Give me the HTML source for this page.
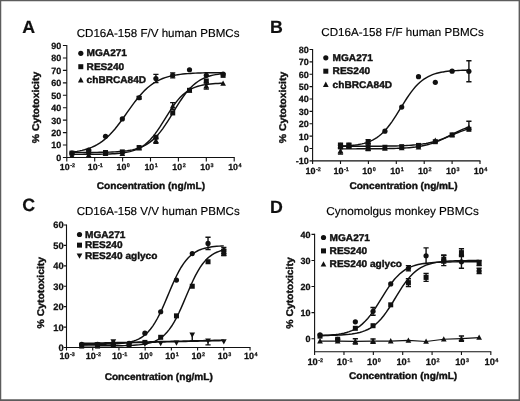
<!DOCTYPE html>
<html><head><meta charset="utf-8"><title>Figure</title>
<style>
html,body{margin:0;padding:0;background:#fff}
body{width:520px;height:401px;overflow:hidden;position:relative}
svg{position:absolute;left:0;top:0;display:block}
text{font-family:"Liberation Sans", Arial, Helvetica, sans-serif;fill:#111;text-rendering:geometricPrecision}
.tk{font-weight:bold;stroke:#111;stroke-width:0.25px}
.sp{font-size:5.4px;font-weight:bold}
.let{font-size:17.8px;font-weight:bold;stroke:#111;stroke-width:0.2px}
.tit{font-size:11.5px;fill:#000;stroke:#000;stroke-width:0.15px}
.lab{font-size:9.75px;font-weight:bold;stroke:#111;stroke-width:0.4px}
.leg{font-size:9.75px;font-weight:bold;stroke:#111;stroke-width:0.4px}
</style></head><body>
<svg width="520" height="401" viewBox="0 0 520 401">
<rect x="0" y="0" width="520" height="401" fill="#fff"/>
<path d="M66.80 45.00V157.50H234.70" fill="none" stroke="#111" stroke-width="1.1"/>
<text x="61.20" y="160.87" text-anchor="end" class="tk" font-size="9.0">0</text>
<text x="61.20" y="148.43" text-anchor="end" class="tk" font-size="9.0">10</text>
<text x="61.20" y="135.98" text-anchor="end" class="tk" font-size="9.0">20</text>
<text x="61.20" y="123.54" text-anchor="end" class="tk" font-size="9.0">30</text>
<text x="61.20" y="111.09" text-anchor="end" class="tk" font-size="9.0">40</text>
<text x="61.20" y="98.65" text-anchor="end" class="tk" font-size="9.0">50</text>
<text x="61.20" y="86.21" text-anchor="end" class="tk" font-size="9.0">60</text>
<text x="61.20" y="73.76" text-anchor="end" class="tk" font-size="9.0">70</text>
<text x="61.20" y="61.32" text-anchor="end" class="tk" font-size="9.0">80</text>
<text x="61.20" y="48.87" text-anchor="end" class="tk" font-size="9.0">90</text>
<text x="59.86" y="169.80" class="tk" font-size="8.8">10<tspan dx="0.5" dy="-2.99" font-size="5.4">-2</tspan></text>
<text x="87.76" y="169.80" class="tk" font-size="8.8">10<tspan dx="0.5" dy="-2.99" font-size="5.4">-1</tspan></text>
<text x="116.56" y="169.80" class="tk" font-size="8.8">10<tspan dx="0.5" dy="-2.99" font-size="5.4">0</tspan></text>
<text x="144.46" y="169.80" class="tk" font-size="8.8">10<tspan dx="0.5" dy="-2.99" font-size="5.4">1</tspan></text>
<text x="172.36" y="169.80" class="tk" font-size="8.8">10<tspan dx="0.5" dy="-2.99" font-size="5.4">2</tspan></text>
<text x="200.26" y="169.80" class="tk" font-size="8.8">10<tspan dx="0.5" dy="-2.99" font-size="5.4">3</tspan></text>
<text x="228.16" y="169.80" class="tk" font-size="8.8">10<tspan dx="0.5" dy="-2.99" font-size="5.4">4</tspan></text>
<path d="M62.90 157.50H66.80M62.90 145.06H66.80M62.90 132.61H66.80M62.90 120.17H66.80M62.90 107.72H66.80M62.90 95.28H66.80M62.90 82.83H66.80M62.90 70.39H66.80M62.90 57.94H66.80M62.90 45.50H66.80M66.80 157.50v3.90M94.70 157.50v3.90M122.60 157.50v3.90M150.50 157.50v3.90M178.40 157.50v3.90M206.30 157.50v3.90M234.20 157.50v3.90" fill="none" stroke="#111" stroke-width="1.1"/>
<text transform="translate(22.3 32.9) " class="let">A</text>
<text x="76.7" y="37" class="tit" textLength="162.8" lengthAdjust="spacingAndGlyphs">CD16A-158 F/V human PBMCs</text>
<text transform="translate(150.9 188.75) scale(1.035 1)" text-anchor="middle" class="lab">Concentration (ng/mL)</text>
<text transform="translate(39.1 107.5) rotate(-90) scale(1.062 1)" text-anchor="middle" class="lab">% Cytotoxicity</text>
<polyline points="71.95,152.05 74.47,151.73 76.99,151.35 79.51,150.90 82.03,150.37 84.55,149.75 87.07,149.01 89.59,148.16 92.11,147.16 94.62,146.01 97.14,144.68 99.66,143.15 102.18,141.41 104.70,139.44 107.22,137.23 109.74,134.79 112.26,132.09 114.78,129.17 117.30,126.04 119.82,122.73 122.33,119.28 124.85,115.73 127.37,112.14 129.89,108.57 132.41,105.07 134.93,101.69 137.45,98.48 139.97,95.46 142.49,92.66 145.01,90.10 147.53,87.79 150.04,85.72 152.56,83.87 155.08,82.25 157.60,80.84 160.12,79.60 162.64,78.54 165.16,77.62 167.68,76.84 170.20,76.17 172.72,75.60 175.24,75.11 177.75,74.70 180.27,74.35 182.79,74.06 185.31,73.81 187.83,73.60 190.35,73.43 192.87,73.28 195.39,73.15 197.91,73.05 200.43,72.96 202.94,72.89 205.46,72.83 207.98,72.77 210.50,72.73 213.02,72.69 215.54,72.66 218.06,72.64 220.58,72.62 223.10,72.60" fill="none" stroke="#111" stroke-width="1.45"/>
<circle cx="71.95" cy="153.14" r="2.60" fill="#111"/>
<circle cx="88.71" cy="150.03" r="2.60" fill="#111"/>
<circle cx="105.51" cy="136.34" r="2.60" fill="#111"/>
<circle cx="122.32" cy="118.92" r="2.60" fill="#111"/>
<path d="M139.11 96.52V99.01M136.51 96.52h5.2M136.51 99.01h5.2" fill="none" stroke="#111" stroke-width="1.4"/>
<circle cx="139.11" cy="97.77" r="2.60" fill="#111"/>
<path d="M155.91 74.37V82.58M153.31 74.37h5.2M153.31 82.58h5.2" fill="none" stroke="#111" stroke-width="1.4"/>
<circle cx="155.91" cy="78.48" r="2.60" fill="#111"/>
<path d="M172.71 72.88V77.86M170.11 72.88h5.2M170.11 77.86h5.2" fill="none" stroke="#111" stroke-width="1.4"/>
<circle cx="172.71" cy="75.37" r="2.60" fill="#111"/>
<circle cx="189.50" cy="69.77" r="2.60" fill="#111"/>
<circle cx="206.30" cy="75.37" r="2.60" fill="#111"/>
<circle cx="223.10" cy="74.12" r="2.60" fill="#111"/>
<polyline points="71.95,152.50 74.47,152.50 76.99,152.49 79.51,152.49 82.03,152.48 84.55,152.47 87.07,152.46 89.59,152.44 92.11,152.42 94.62,152.40 97.14,152.37 99.66,152.34 102.18,152.29 104.70,152.24 107.22,152.18 109.74,152.10 112.26,152.00 114.78,151.88 117.30,151.73 119.82,151.55 122.33,151.33 124.85,151.06 127.37,150.73 129.89,150.33 132.41,149.84 134.93,149.25 137.45,148.53 139.97,147.66 142.49,146.62 145.01,145.37 147.53,143.90 150.04,142.16 152.56,140.14 155.08,137.80 157.60,135.14 160.12,132.14 162.64,128.82 165.16,125.21 167.68,121.35 170.20,117.30 172.72,113.16 175.24,108.99 177.75,104.90 180.27,100.97 182.79,97.26 185.31,93.82 187.83,90.71 190.35,87.92 192.87,85.46 195.39,83.33 197.91,81.49 200.43,79.92 202.94,78.59 205.46,77.48 207.98,76.55 210.50,75.78 213.02,75.14 215.54,74.62 218.06,74.18 220.58,73.83 223.10,73.54" fill="none" stroke="#111" stroke-width="1.45"/>
<rect x="69.45" y="150.64" width="5.00" height="5.00" fill="#111"/>
<rect x="86.21" y="149.40" width="5.00" height="5.00" fill="#111"/>
<rect x="103.01" y="150.02" width="5.00" height="5.00" fill="#111"/>
<rect x="119.82" y="149.40" width="5.00" height="5.00" fill="#111"/>
<rect x="136.61" y="145.04" width="5.00" height="5.00" fill="#111"/>
<rect x="153.41" y="134.72" width="5.00" height="5.00" fill="#111"/>
<rect x="170.21" y="110.45" width="5.00" height="5.00" fill="#111"/>
<rect x="187.00" y="87.80" width="5.00" height="5.00" fill="#111"/>
<rect x="203.80" y="78.47" width="5.00" height="5.00" fill="#111"/>
<rect x="220.60" y="72.87" width="5.00" height="5.00" fill="#111"/>
<polyline points="71.95,154.37 74.47,154.37 76.99,154.36 79.51,154.36 82.03,154.35 84.55,154.34 87.07,154.33 89.59,154.31 92.11,154.29 94.62,154.27 97.14,154.24 99.66,154.20 102.18,154.15 104.70,154.09 107.22,154.02 109.74,153.92 112.26,153.81 114.78,153.66 117.30,153.47 119.82,153.24 122.33,152.95 124.85,152.59 127.37,152.14 129.89,151.59 132.41,150.90 134.93,150.06 137.45,149.03 139.97,147.79 142.49,146.28 145.01,144.49 147.53,142.37 150.04,139.90 152.56,137.08 155.08,133.91 157.60,130.41 160.12,126.64 162.64,122.67 165.16,118.59 167.68,114.52 170.20,110.55 172.72,106.78 175.24,103.29 177.75,100.12 180.27,97.30 182.79,94.84 185.31,92.72 187.83,90.93 190.35,89.43 192.87,88.18 195.39,87.15 197.91,86.31 200.43,85.63 202.94,85.08 205.46,84.63 207.98,84.27 210.50,83.98 213.02,83.75 215.54,83.56 218.06,83.42 220.58,83.30 223.10,83.20" fill="none" stroke="#111" stroke-width="1.45"/>
<path d="M71.95 152.64L74.80 157.91H69.10Z" fill="#111"/>
<path d="M88.71 152.02L91.56 157.29H85.86Z" fill="#111"/>
<path d="M105.51 150.77L108.36 156.05H102.66Z" fill="#111"/>
<path d="M122.32 150.77L125.17 156.05H119.47Z" fill="#111"/>
<path d="M139.11 145.17L141.96 150.45H136.26Z" fill="#111"/>
<path d="M155.91 138.21V143.19M153.31 138.21h5.2M153.31 143.19h5.2" fill="none" stroke="#111" stroke-width="1.4"/>
<path d="M155.91 137.71L158.76 142.98H153.06Z" fill="#111"/>
<path d="M172.71 102.62V109.59M170.11 102.62h5.2M170.11 109.59h5.2" fill="none" stroke="#111" stroke-width="1.4"/>
<path d="M172.71 103.11L175.56 108.38H169.86Z" fill="#111"/>
<path d="M189.50 87.31L192.35 92.58H186.65Z" fill="#111"/>
<path d="M206.30 82.96V88.93M203.70 82.96h5.2M203.70 88.93h5.2" fill="none" stroke="#111" stroke-width="1.4"/>
<path d="M206.30 82.95L209.15 88.22H203.45Z" fill="#111"/>
<path d="M223.10 80.46L225.95 85.74H220.25Z" fill="#111"/>
<circle cx="80.80" cy="53.30" r="2.60" fill="#111"/>
<text transform="translate(86.6 56.30) scale(1.035 1)" class="leg">MGA271</text>
<rect x="78.30" y="64.20" width="5.00" height="5.00" fill="#111"/>
<text transform="translate(86.6 69.70) scale(1.035 1)" class="leg">RES240</text>
<path d="M80.80 77.11L83.65 82.38H77.95Z" fill="#111"/>
<text transform="translate(86.6 83.10) scale(1.035 1)" class="leg">chBRCA84D</text>
<path d="M312.60 49.00V160.88H480.50" fill="none" stroke="#111" stroke-width="1.1"/>
<text x="308.70" y="164.25" text-anchor="end" class="tk" font-size="9.0">-10</text>
<text x="308.70" y="151.87" text-anchor="end" class="tk" font-size="9.0">0</text>
<text x="308.70" y="139.50" text-anchor="end" class="tk" font-size="9.0">10</text>
<text x="308.70" y="127.12" text-anchor="end" class="tk" font-size="9.0">20</text>
<text x="308.70" y="114.75" text-anchor="end" class="tk" font-size="9.0">30</text>
<text x="308.70" y="102.37" text-anchor="end" class="tk" font-size="9.0">40</text>
<text x="308.70" y="90.00" text-anchor="end" class="tk" font-size="9.0">50</text>
<text x="308.70" y="77.62" text-anchor="end" class="tk" font-size="9.0">60</text>
<text x="308.70" y="65.25" text-anchor="end" class="tk" font-size="9.0">70</text>
<text x="308.70" y="52.87" text-anchor="end" class="tk" font-size="9.0">80</text>
<text x="305.55" y="173.60" class="tk" font-size="9.0">10<tspan dx="0.5" dy="-3.06" font-size="5.4">-2</tspan></text>
<text x="333.45" y="173.60" class="tk" font-size="9.0">10<tspan dx="0.5" dy="-3.06" font-size="5.4">-1</tspan></text>
<text x="362.24" y="173.60" class="tk" font-size="9.0">10<tspan dx="0.5" dy="-3.06" font-size="5.4">0</tspan></text>
<text x="390.14" y="173.60" class="tk" font-size="9.0">10<tspan dx="0.5" dy="-3.06" font-size="5.4">1</tspan></text>
<text x="418.04" y="173.60" class="tk" font-size="9.0">10<tspan dx="0.5" dy="-3.06" font-size="5.4">2</tspan></text>
<text x="445.94" y="173.60" class="tk" font-size="9.0">10<tspan dx="0.5" dy="-3.06" font-size="5.4">3</tspan></text>
<text x="473.84" y="173.60" class="tk" font-size="9.0">10<tspan dx="0.5" dy="-3.06" font-size="5.4">4</tspan></text>
<path d="M309.50 160.88H312.60M309.50 148.50H312.60M309.50 136.12H312.60M309.50 123.75H312.60M309.50 111.38H312.60M309.50 99.00H312.60M309.50 86.62H312.60M309.50 74.25H312.60M309.50 61.88H312.60M309.50 49.50H312.60M312.60 160.88v3.10M340.50 160.88v3.10M368.40 160.88v3.10M396.30 160.88v3.10M424.20 160.88v3.10M452.10 160.88v3.10M480.00 160.88v3.10" fill="none" stroke="#111" stroke-width="1.1"/>
<text transform="translate(269.9 32.9) " class="let">B</text>
<text x="321.3" y="36.3" class="tit" textLength="162.5" lengthAdjust="spacingAndGlyphs">CD16A-158 F/F human PBMCs</text>
<text transform="translate(403.5 188.75) scale(1.035 1)" text-anchor="middle" class="lab">Concentration (ng/mL)</text>
<text transform="translate(286.3 107.5) rotate(-90) scale(1.062 1)" text-anchor="middle" class="lab">% Cytotoxicity</text>
<polyline points="340.50,146.18 342.64,146.09 344.78,145.98 346.92,145.85 349.06,145.69 351.20,145.50 353.34,145.28 355.48,145.02 357.62,144.70 359.76,144.32 361.90,143.88 364.04,143.35 366.18,142.72 368.32,141.99 370.46,141.13 372.60,140.12 374.74,138.95 376.88,137.59 379.02,136.04 381.16,134.26 383.30,132.26 385.44,130.01 387.58,127.52 389.72,124.79 391.86,121.84 394.00,118.69 396.14,115.39 398.28,111.97 400.42,108.49 402.56,105.01 404.70,101.58 406.84,98.26 408.98,95.10 411.12,92.12 413.26,89.36 415.40,86.84 417.54,84.57 419.68,82.53 421.82,80.73 423.96,79.15 426.10,77.77 428.24,76.58 430.38,75.55 432.52,74.67 434.66,73.92 436.80,73.29 438.94,72.75 441.08,72.29 443.22,71.91 445.36,71.58 447.50,71.31 449.64,71.08 451.78,70.89 453.92,70.73 456.06,70.60 458.20,70.49 460.34,70.39 462.48,70.31 464.62,70.25 466.76,70.19 468.90,70.15" fill="none" stroke="#111" stroke-width="1.45"/>
<path d="M340.50 143.18V147.63M337.90 143.18h5.2M337.90 147.63h5.2" fill="none" stroke="#111" stroke-width="1.4"/>
<circle cx="340.50" cy="145.41" r="2.60" fill="#111"/>
<path d="M348.90 143.18V147.63M346.30 143.18h5.2M346.30 147.63h5.2" fill="none" stroke="#111" stroke-width="1.4"/>
<circle cx="348.90" cy="145.41" r="2.60" fill="#111"/>
<path d="M368.12 139.59V143.80M365.52 139.59h5.2M365.52 143.80h5.2" fill="none" stroke="#111" stroke-width="1.4"/>
<circle cx="368.12" cy="141.69" r="2.60" fill="#111"/>
<circle cx="384.91" cy="131.18" r="2.60" fill="#111"/>
<circle cx="401.71" cy="107.04" r="2.60" fill="#111"/>
<circle cx="418.51" cy="76.72" r="2.60" fill="#111"/>
<circle cx="435.30" cy="82.29" r="2.60" fill="#111"/>
<circle cx="452.10" cy="71.16" r="2.60" fill="#111"/>
<path d="M468.90 60.76V81.80M466.30 60.76h5.2M466.30 81.80h5.2" fill="none" stroke="#111" stroke-width="1.4"/>
<circle cx="468.90" cy="71.28" r="2.60" fill="#111"/>
<polyline points="340.50,146.27 342.64,146.27 344.78,146.26 346.92,146.26 349.06,146.26 351.20,146.26 353.34,146.26 355.48,146.26 357.62,146.25 359.76,146.25 361.90,146.24 364.04,146.24 366.18,146.23 368.32,146.23 370.46,146.22 372.60,146.21 374.74,146.20 376.88,146.19 379.02,146.17 381.16,146.16 383.30,146.14 385.44,146.11 387.58,146.09 389.72,146.06 391.86,146.02 394.00,145.98 396.14,145.93 398.28,145.87 400.42,145.80 402.56,145.72 404.70,145.63 406.84,145.52 408.98,145.39 411.12,145.25 413.26,145.08 415.40,144.89 417.54,144.67 419.68,144.41 421.82,144.12 423.96,143.79 426.10,143.42 428.24,143.00 430.38,142.53 432.52,142.01 434.66,141.43 436.80,140.80 438.94,140.12 441.08,139.38 443.22,138.60 445.36,137.77 447.50,136.92 449.64,136.04 451.78,135.15 453.92,134.25 456.06,133.37 458.20,132.50 460.34,131.67 462.48,130.87 464.62,130.12 466.76,129.42 468.90,128.77" fill="none" stroke="#111" stroke-width="1.45"/>
<path d="M340.50 144.79V148.50M337.90 144.79h5.2M337.90 148.50h5.2" fill="none" stroke="#111" stroke-width="1.4"/>
<rect x="338.00" y="144.14" width="5.00" height="5.00" fill="#111"/>
<rect x="346.40" y="143.53" width="5.00" height="5.00" fill="#111"/>
<path d="M368.12 144.04V150.48M365.52 144.04h5.2M365.52 150.48h5.2" fill="none" stroke="#111" stroke-width="1.4"/>
<rect x="365.62" y="144.76" width="5.00" height="5.00" fill="#111"/>
<rect x="382.41" y="144.76" width="5.00" height="5.00" fill="#111"/>
<rect x="399.21" y="144.14" width="5.00" height="5.00" fill="#111"/>
<rect x="416.01" y="142.91" width="5.00" height="5.00" fill="#111"/>
<rect x="432.80" y="139.19" width="5.00" height="5.00" fill="#111"/>
<rect x="449.60" y="132.39" width="5.00" height="5.00" fill="#111"/>
<rect x="466.40" y="126.82" width="5.00" height="5.00" fill="#111"/>
<polyline points="340.50,148.86 342.64,148.86 344.78,148.86 346.92,148.86 349.06,148.86 351.20,148.85 353.34,148.85 355.48,148.85 357.62,148.84 359.76,148.84 361.90,148.83 364.04,148.83 366.18,148.82 368.32,148.81 370.46,148.80 372.60,148.79 374.74,148.77 376.88,148.76 379.02,148.74 381.16,148.72 383.30,148.69 385.44,148.66 387.58,148.62 389.72,148.58 391.86,148.53 394.00,148.47 396.14,148.40 398.28,148.33 400.42,148.23 402.56,148.13 404.70,148.00 406.84,147.86 408.98,147.69 411.12,147.50 413.26,147.27 415.40,147.02 417.54,146.72 419.68,146.39 421.82,146.00 423.96,145.57 426.10,145.08 428.24,144.53 430.38,143.91 432.52,143.23 434.66,142.49 436.80,141.67 438.94,140.80 441.08,139.86 443.22,138.87 445.36,137.84 447.50,136.77 449.64,135.68 451.78,134.58 453.92,133.49 456.06,132.42 458.20,131.39 460.34,130.39 462.48,129.45 464.62,128.56 466.76,127.74 468.90,126.99" fill="none" stroke="#111" stroke-width="1.45"/>
<path d="M340.50 147.88V154.07M337.90 147.88h5.2M337.90 154.07h5.2" fill="none" stroke="#111" stroke-width="1.4"/>
<path d="M340.50 147.98L343.35 153.25H337.65Z" fill="#111"/>
<path d="M348.90 143.65L351.75 148.92H346.05Z" fill="#111"/>
<path d="M368.12 145.51L370.97 150.78H365.27Z" fill="#111"/>
<path d="M384.91 145.51L387.76 150.78H382.06Z" fill="#111"/>
<path d="M401.71 144.89L404.56 150.16H398.86Z" fill="#111"/>
<path d="M418.51 144.27L421.36 149.54H415.66Z" fill="#111"/>
<path d="M435.30 137.46L438.15 142.74H432.45Z" fill="#111"/>
<path d="M452.10 131.89L454.95 137.17H449.25Z" fill="#111"/>
<path d="M468.90 121.28V127.46M466.30 121.28h5.2" fill="none" stroke="#111" stroke-width="1.4"/>
<path d="M468.90 124.47L471.75 129.74H466.05Z" fill="#111"/>
<circle cx="325.80" cy="57.80" r="2.60" fill="#111"/>
<text transform="translate(332.6 60.80) scale(1.035 1)" class="leg">MGA271</text>
<rect x="323.30" y="68.70" width="5.00" height="5.00" fill="#111"/>
<text transform="translate(332.6 74.20) scale(1.035 1)" class="leg">RES240</text>
<path d="M325.80 81.61L328.65 86.88H322.95Z" fill="#111"/>
<text transform="translate(332.6 87.60) scale(1.035 1)" class="leg">chBRCA84D</text>
<path d="M66.50 224.50V347.50H250.54" fill="none" stroke="#111" stroke-width="1.1"/>
<text x="63.60" y="350.98" text-anchor="end" class="tk" font-size="9.3">0</text>
<text x="63.60" y="330.56" text-anchor="end" class="tk" font-size="9.3">10</text>
<text x="63.60" y="310.15" text-anchor="end" class="tk" font-size="9.3">20</text>
<text x="63.60" y="289.73" text-anchor="end" class="tk" font-size="9.3">30</text>
<text x="63.60" y="269.31" text-anchor="end" class="tk" font-size="9.3">40</text>
<text x="63.60" y="248.90" text-anchor="end" class="tk" font-size="9.3">50</text>
<text x="63.60" y="228.48" text-anchor="end" class="tk" font-size="9.3">60</text>
<text x="59.45" y="359.10" class="tk" font-size="9.0">10<tspan dx="0.5" dy="-3.06" font-size="5.4">-3</tspan></text>
<text x="85.67" y="359.10" class="tk" font-size="9.0">10<tspan dx="0.5" dy="-3.06" font-size="5.4">-2</tspan></text>
<text x="111.89" y="359.10" class="tk" font-size="9.0">10<tspan dx="0.5" dy="-3.06" font-size="5.4">-1</tspan></text>
<text x="139.00" y="359.10" class="tk" font-size="9.0">10<tspan dx="0.5" dy="-3.06" font-size="5.4">0</tspan></text>
<text x="165.22" y="359.10" class="tk" font-size="9.0">10<tspan dx="0.5" dy="-3.06" font-size="5.4">1</tspan></text>
<text x="191.44" y="359.10" class="tk" font-size="9.0">10<tspan dx="0.5" dy="-3.06" font-size="5.4">2</tspan></text>
<text x="217.66" y="359.10" class="tk" font-size="9.0">10<tspan dx="0.5" dy="-3.06" font-size="5.4">3</tspan></text>
<text x="243.88" y="359.10" class="tk" font-size="9.0">10<tspan dx="0.5" dy="-3.06" font-size="5.4">4</tspan></text>
<path d="M63.60 347.50H66.50M63.60 327.08H66.50M63.60 306.67H66.50M63.60 286.25H66.50M63.60 265.83H66.50M63.60 245.42H66.50M63.60 225.00H66.50M66.50 347.50v2.90M92.72 347.50v2.90M118.94 347.50v2.90M145.16 347.50v2.90M171.38 347.50v2.90M197.60 347.50v2.90M223.82 347.50v2.90M250.04 347.50v2.90" fill="none" stroke="#111" stroke-width="1.1"/>
<text transform="translate(22.2 211.3) " class="let">C</text>
<text x="76.7" y="215" class="tit" textLength="163" lengthAdjust="spacingAndGlyphs">CD16A-158 V/V human PBMCs</text>
<text transform="translate(158.75 379.75) scale(1.035 1)" text-anchor="middle" class="lab">Concentration (ng/mL)</text>
<text transform="translate(43.5 292.7) rotate(-90) scale(1.062 1)" text-anchor="middle" class="lab">% Cytotoxicity</text>
<polyline points="81.70,344.41 84.07,344.41 86.44,344.40 88.81,344.39 91.18,344.38 93.55,344.36 95.91,344.34 98.28,344.32 100.65,344.29 103.02,344.25 105.39,344.21 107.76,344.15 110.13,344.07 112.49,343.98 114.86,343.86 117.23,343.72 119.60,343.53 121.97,343.30 124.34,343.01 126.71,342.65 129.07,342.21 131.44,341.65 133.81,340.96 136.18,340.10 138.55,339.05 140.92,337.76 143.29,336.18 145.66,334.28 148.02,331.99 150.39,329.28 152.76,326.11 155.13,322.44 157.50,318.28 159.87,313.65 162.24,308.60 164.60,303.22 166.97,297.63 169.34,291.97 171.71,286.39 174.08,281.02 176.45,275.99 178.82,271.38 181.18,267.24 183.55,263.59 185.92,260.44 188.29,257.75 190.66,255.48 193.03,253.60 195.40,252.03 197.77,250.75 200.13,249.71 202.50,248.86 204.87,248.18 207.24,247.63 209.61,247.18 211.98,246.83 214.35,246.54 216.71,246.31 219.08,246.13 221.45,245.99 223.82,245.87" fill="none" stroke="#111" stroke-width="1.45"/>
<circle cx="81.70" cy="344.44" r="2.60" fill="#111"/>
<circle cx="97.56" cy="344.44" r="2.60" fill="#111"/>
<circle cx="113.31" cy="343.42" r="2.60" fill="#111"/>
<circle cx="129.10" cy="343.42" r="2.60" fill="#111"/>
<circle cx="144.90" cy="333.21" r="2.60" fill="#111"/>
<circle cx="160.68" cy="311.77" r="2.60" fill="#111"/>
<circle cx="176.47" cy="280.12" r="2.60" fill="#111"/>
<circle cx="192.25" cy="253.58" r="2.60" fill="#111"/>
<path d="M208.03 237.25V249.50M205.43 237.25h5.2M205.43 249.50h5.2" fill="none" stroke="#111" stroke-width="1.4"/>
<circle cx="208.03" cy="243.38" r="2.60" fill="#111"/>
<path d="M223.82 247.46V253.58M221.22 247.46h5.2M221.22 253.58h5.2" fill="none" stroke="#111" stroke-width="1.4"/>
<circle cx="223.82" cy="250.52" r="2.60" fill="#111"/>
<polyline points="81.70,345.86 84.07,345.86 86.44,345.86 88.81,345.86 91.18,345.86 93.55,345.85 95.91,345.85 98.28,345.85 100.65,345.84 103.02,345.83 105.39,345.83 107.76,345.82 110.13,345.80 112.49,345.79 114.86,345.76 117.23,345.74 119.60,345.71 121.97,345.66 124.34,345.61 126.71,345.55 129.07,345.46 131.44,345.36 133.81,345.23 136.18,345.07 138.55,344.87 140.92,344.61 143.29,344.30 145.66,343.90 148.02,343.41 150.39,342.80 152.76,342.04 155.13,341.10 157.50,339.95 159.87,338.55 162.24,336.84 164.60,334.78 166.97,332.32 169.34,329.42 171.71,326.04 174.08,322.17 176.45,317.81 178.82,313.01 181.18,307.83 183.55,302.37 185.92,296.77 188.29,291.16 190.66,285.70 193.03,280.50 195.40,275.68 197.77,271.31 200.13,267.42 202.50,264.03 204.87,261.11 207.24,258.63 209.61,256.56 211.98,254.84 214.35,253.42 216.71,252.26 219.08,251.32 221.45,250.55 223.82,249.94" fill="none" stroke="#111" stroke-width="1.45"/>
<rect x="79.20" y="343.57" width="5.00" height="5.00" fill="#111"/>
<rect x="95.06" y="343.57" width="5.00" height="5.00" fill="#111"/>
<rect x="110.81" y="342.96" width="5.00" height="5.00" fill="#111"/>
<rect x="126.60" y="342.55" width="5.00" height="5.00" fill="#111"/>
<rect x="142.40" y="339.90" width="5.00" height="5.00" fill="#111"/>
<rect x="158.18" y="334.79" width="5.00" height="5.00" fill="#111"/>
<rect x="173.97" y="313.35" width="5.00" height="5.00" fill="#111"/>
<rect x="189.75" y="283.75" width="5.00" height="5.00" fill="#111"/>
<rect x="205.53" y="259.25" width="5.00" height="5.00" fill="#111"/>
<path d="M223.82 249.50V255.62M221.22 249.50h5.2M221.22 255.62h5.2" fill="none" stroke="#111" stroke-width="1.4"/>
<rect x="221.32" y="251.08" width="5.00" height="5.00" fill="#111"/>
<polyline points="81.70,343.62 84.07,343.56 86.44,343.51 88.81,343.46 91.18,343.40 93.55,343.35 95.91,343.29 98.28,343.24 100.65,343.18 103.02,343.13 105.39,343.07 107.76,343.02 110.13,342.97 112.49,342.91 114.86,342.86 117.23,342.80 119.60,342.75 121.97,342.69 124.34,342.64 126.71,342.58 129.07,342.53 131.44,342.48 133.81,342.42 136.18,342.37 138.55,342.31 140.92,342.26 143.29,342.20 145.66,342.15 148.02,342.10 150.39,342.04 152.76,341.99 155.13,341.93 157.50,341.88 159.87,341.82 162.24,341.77 164.60,341.71 166.97,341.66 169.34,341.61 171.71,341.55 174.08,341.50 176.45,341.44 178.82,341.39 181.18,341.33 183.55,341.28 185.92,341.22 188.29,341.17 190.66,341.12 193.03,341.06 195.40,341.01 197.77,340.95 200.13,340.90 202.50,340.84 204.87,340.79 207.24,340.74 209.61,340.68 211.98,340.63 214.35,340.57 216.71,340.52 219.08,340.46 221.45,340.41 223.82,340.35" fill="none" stroke="#111" stroke-width="1.9"/>
<path d="M81.70 348.04L84.55 342.77H78.85Z" fill="#111"/>
<path d="M97.56 347.43L100.41 342.16H94.71Z" fill="#111"/>
<path d="M113.31 341.58V344.03M110.71 344.03h5.2" fill="none" stroke="#111" stroke-width="1.4"/>
<path d="M113.31 344.57L116.16 339.30H110.46Z" fill="#111"/>
<path d="M129.10 347.23L131.95 341.95H126.25Z" fill="#111"/>
<path d="M144.90 347.02L147.75 341.75H142.05Z" fill="#111"/>
<path d="M160.68 346.20L163.53 340.93H157.83Z" fill="#111"/>
<path d="M176.47 345.80L179.32 340.52H173.62Z" fill="#111"/>
<path d="M192.25 334.84V340.97M189.65 340.97h5.2" fill="none" stroke="#111" stroke-width="1.4"/>
<path d="M192.25 337.83L195.10 332.56H189.40Z" fill="#111"/>
<path d="M208.03 340.76V344.85M205.43 344.85h5.2" fill="none" stroke="#111" stroke-width="1.4"/>
<path d="M208.03 343.75L210.88 338.48H205.18Z" fill="#111"/>
<path d="M223.82 344.57L226.67 339.30H220.97Z" fill="#111"/>
<circle cx="79.50" cy="234.50" r="2.60" fill="#111"/>
<text transform="translate(85 237.50) scale(1.035 1)" class="leg">MGA271</text>
<rect x="77.00" y="242.65" width="5.00" height="5.00" fill="#111"/>
<text transform="translate(85 248.15) scale(1.035 1)" class="leg">RES240</text>
<path d="M79.50 258.79L82.35 253.52H76.65Z" fill="#111"/>
<text transform="translate(85 258.80) scale(1.035 1)" class="leg">RES240 aglyco</text>
<path d="M314.60 233.85V351.80H491.32" fill="none" stroke="#111" stroke-width="1.1"/>
<text x="310.50" y="342.12" text-anchor="end" class="tk" font-size="9.0">0</text>
<text x="310.50" y="316.02" text-anchor="end" class="tk" font-size="9.0">10</text>
<text x="310.50" y="289.92" text-anchor="end" class="tk" font-size="9.0">20</text>
<text x="310.50" y="263.82" text-anchor="end" class="tk" font-size="9.0">30</text>
<text x="310.50" y="237.72" text-anchor="end" class="tk" font-size="9.0">40</text>
<text x="307.38" y="364.80" class="tk" font-size="9.3">10<tspan dx="0.5" dy="-3.16" font-size="5.4">-2</tspan></text>
<text x="336.75" y="364.80" class="tk" font-size="9.3">10<tspan dx="0.5" dy="-3.16" font-size="5.4">-1</tspan></text>
<text x="367.02" y="364.80" class="tk" font-size="9.3">10<tspan dx="0.5" dy="-3.16" font-size="5.4">0</tspan></text>
<text x="396.39" y="364.80" class="tk" font-size="9.3">10<tspan dx="0.5" dy="-3.16" font-size="5.4">1</tspan></text>
<text x="425.76" y="364.80" class="tk" font-size="9.3">10<tspan dx="0.5" dy="-3.16" font-size="5.4">2</tspan></text>
<text x="455.13" y="364.80" class="tk" font-size="9.3">10<tspan dx="0.5" dy="-3.16" font-size="5.4">3</tspan></text>
<text x="484.50" y="364.80" class="tk" font-size="9.3">10<tspan dx="0.5" dy="-3.16" font-size="5.4">4</tspan></text>
<path d="M311.50 338.75H314.60M311.50 312.65H314.60M311.50 286.55H314.60M311.50 260.45H314.60M311.50 234.35H314.60M314.60 351.80v3.10M343.97 351.80v3.10M373.34 351.80v3.10M402.71 351.80v3.10M432.08 351.80v3.10M461.45 351.80v3.10M490.82 351.80v3.10" fill="none" stroke="#111" stroke-width="1.1"/>
<text transform="translate(269.9 213.1) " class="let">D</text>
<text x="326.3" y="215" class="tit" textLength="152.5" lengthAdjust="spacingAndGlyphs">Cynomolgus monkey PBMCs</text>
<text transform="translate(403.1 379.25) scale(1.035 1)" text-anchor="middle" class="lab">Concentration (ng/mL)</text>
<text transform="translate(293.2 293.0) rotate(-90) scale(1.062 1)" text-anchor="middle" class="lab">% Cytotoxicity</text>
<polyline points="320.02,335.54 322.68,335.45 325.33,335.33 327.98,335.19 330.63,335.01 333.28,334.79 335.94,334.51 338.59,334.16 341.24,333.72 343.89,333.18 346.54,332.50 349.19,331.67 351.85,330.64 354.50,329.39 357.15,327.87 359.80,326.05 362.45,323.89 365.11,321.36 367.76,318.45 370.41,315.15 373.06,311.51 375.71,307.56 378.36,303.39 381.02,299.10 383.67,294.80 386.32,290.60 388.97,286.62 391.62,282.93 394.27,279.59 396.93,276.63 399.58,274.05 402.23,271.85 404.88,269.98 407.53,268.43 410.19,267.14 412.84,266.09 415.49,265.23 418.14,264.54 420.79,263.98 423.44,263.53 426.10,263.16 428.75,262.88 431.40,262.65 434.05,262.46 436.70,262.32 439.36,262.20 442.01,262.11 444.66,262.04 447.31,261.98 449.96,261.93 452.61,261.89 455.27,261.87 457.92,261.84 460.57,261.82 463.22,261.81 465.87,261.80 468.53,261.79 471.18,261.78 473.83,261.78 476.48,261.77 479.13,261.77" fill="none" stroke="#111" stroke-width="1.45"/>
<circle cx="320.02" cy="334.83" r="2.60" fill="#111"/>
<circle cx="337.67" cy="339.27" r="2.60" fill="#111"/>
<circle cx="355.35" cy="321.79" r="2.60" fill="#111"/>
<path d="M373.04 307.43V315.26M370.44 307.43h5.2M370.44 315.26h5.2" fill="none" stroke="#111" stroke-width="1.4"/>
<circle cx="373.04" cy="311.35" r="2.60" fill="#111"/>
<circle cx="390.72" cy="283.94" r="2.60" fill="#111"/>
<path d="M408.41 265.67V270.89M405.81 265.67h5.2M405.81 270.89h5.2" fill="none" stroke="#111" stroke-width="1.4"/>
<circle cx="408.41" cy="268.28" r="2.60" fill="#111"/>
<path d="M426.08 247.92V263.58M423.48 247.92h5.2M423.48 263.58h5.2" fill="none" stroke="#111" stroke-width="1.4"/>
<circle cx="426.08" cy="255.75" r="2.60" fill="#111"/>
<path d="M443.77 255.23V265.67M441.17 255.23h5.2M441.17 265.67h5.2" fill="none" stroke="#111" stroke-width="1.4"/>
<circle cx="443.77" cy="260.45" r="2.60" fill="#111"/>
<path d="M461.45 255.23V268.28M458.85 255.23h5.2M458.85 268.28h5.2" fill="none" stroke="#111" stroke-width="1.4"/>
<circle cx="461.45" cy="261.75" r="2.60" fill="#111"/>
<path d="M479.13 268.28V273.50M476.53 268.28h5.2M476.53 273.50h5.2" fill="none" stroke="#111" stroke-width="1.4"/>
<circle cx="479.13" cy="270.89" r="2.60" fill="#111"/>
<polyline points="320.02,335.52 322.68,335.49 325.33,335.46 327.98,335.42 330.63,335.36 333.28,335.30 335.94,335.21 338.59,335.11 341.24,334.97 343.89,334.80 346.54,334.59 349.19,334.33 351.85,334.00 354.50,333.59 357.15,333.07 359.80,332.43 362.45,331.64 365.11,330.67 367.76,329.48 370.41,328.03 373.06,326.29 375.71,324.21 378.36,321.77 381.02,318.95 383.67,315.74 386.32,312.15 388.97,308.24 391.62,304.07 394.27,299.75 396.93,295.38 399.58,291.08 402.23,286.96 404.88,283.11 407.53,279.61 410.19,276.47 412.84,273.73 415.49,271.38 418.14,269.38 420.79,267.70 423.44,266.31 426.10,265.17 428.75,264.24 431.40,263.48 434.05,262.87 436.70,262.38 439.36,261.99 442.01,261.68 444.66,261.42 447.31,261.22 449.96,261.06 452.61,260.94 455.27,260.84 457.92,260.76 460.57,260.69 463.22,260.64 465.87,260.60 468.53,260.57 471.18,260.55 473.83,260.53 476.48,260.51 479.13,260.50" fill="none" stroke="#111" stroke-width="1.45"/>
<rect x="317.52" y="333.64" width="5.00" height="5.00" fill="#111"/>
<rect x="335.17" y="336.77" width="5.00" height="5.00" fill="#111"/>
<rect x="352.85" y="325.81" width="5.00" height="5.00" fill="#111"/>
<rect x="370.54" y="323.20" width="5.00" height="5.00" fill="#111"/>
<rect x="388.22" y="302.32" width="5.00" height="5.00" fill="#111"/>
<path d="M408.41 278.72V286.55M405.81 278.72h5.2M405.81 286.55h5.2" fill="none" stroke="#111" stroke-width="1.4"/>
<rect x="405.91" y="280.13" width="5.00" height="5.00" fill="#111"/>
<path d="M426.08 273.50V281.33M423.48 273.50h5.2M423.48 281.33h5.2" fill="none" stroke="#111" stroke-width="1.4"/>
<rect x="423.58" y="274.92" width="5.00" height="5.00" fill="#111"/>
<path d="M443.77 255.23V263.06M441.17 255.23h5.2M441.17 263.06h5.2" fill="none" stroke="#111" stroke-width="1.4"/>
<rect x="441.27" y="256.64" width="5.00" height="5.00" fill="#111"/>
<path d="M461.45 248.71V256.54M458.85 248.71h5.2M458.85 256.54h5.2" fill="none" stroke="#111" stroke-width="1.4"/>
<rect x="458.95" y="250.12" width="5.00" height="5.00" fill="#111"/>
<path d="M479.13 260.45V265.67M476.53 260.45h5.2M476.53 265.67h5.2" fill="none" stroke="#111" stroke-width="1.4"/>
<rect x="476.63" y="260.56" width="5.00" height="5.00" fill="#111"/>
<polyline points="320.02,341.10 337.67,341.10 355.35,341.36 373.04,341.10 390.72,341.10 408.41,340.45 426.08,341.49 443.77,339.27 461.45,338.62 479.13,337.58" fill="none" stroke="#111" stroke-width="1.15"/>
<path d="M320.02 338.11L322.87 343.38H317.17Z" fill="#111"/>
<path d="M337.67 338.11L340.52 343.38H334.82Z" fill="#111"/>
<path d="M355.35 338.75V343.97M352.75 338.75h5.2M352.75 343.97h5.2" fill="none" stroke="#111" stroke-width="1.4"/>
<path d="M355.35 338.37L358.20 343.64H352.50Z" fill="#111"/>
<path d="M373.04 339.01V343.19M370.44 339.01h5.2M370.44 343.19h5.2" fill="none" stroke="#111" stroke-width="1.4"/>
<path d="M373.04 338.11L375.89 343.38H370.19Z" fill="#111"/>
<path d="M390.72 338.11L393.57 343.38H387.87Z" fill="#111"/>
<path d="M408.41 337.45L411.26 342.73H405.56Z" fill="#111"/>
<path d="M426.08 338.50L428.93 343.77H423.23Z" fill="#111"/>
<path d="M443.77 336.28L446.62 341.55H440.92Z" fill="#111"/>
<path d="M461.45 336.01V341.23M458.85 336.01h5.2M458.85 341.23h5.2" fill="none" stroke="#111" stroke-width="1.4"/>
<path d="M461.45 335.63L464.30 340.90H458.60Z" fill="#111"/>
<path d="M479.13 334.58L481.98 339.86H476.28Z" fill="#111"/>
<circle cx="323.50" cy="237.50" r="2.60" fill="#111"/>
<text transform="translate(329.6 240.50) scale(1.035 1)" class="leg">MGA271</text>
<rect x="321.00" y="248.40" width="5.00" height="5.00" fill="#111"/>
<text transform="translate(329.6 253.90) scale(1.035 1)" class="leg">RES240</text>
<path d="M323.50 261.31L326.35 266.58H320.65Z" fill="#111"/>
<text transform="translate(329.6 267.30) scale(1.035 1)" class="leg">RES240 aglyco</text>
<path d="M0 0H520V401H0Z M1.25 1.3V399.3H518.6V1.3Z" fill="#5c5c5c" fill-rule="evenodd"/>
</svg>
</body></html>
